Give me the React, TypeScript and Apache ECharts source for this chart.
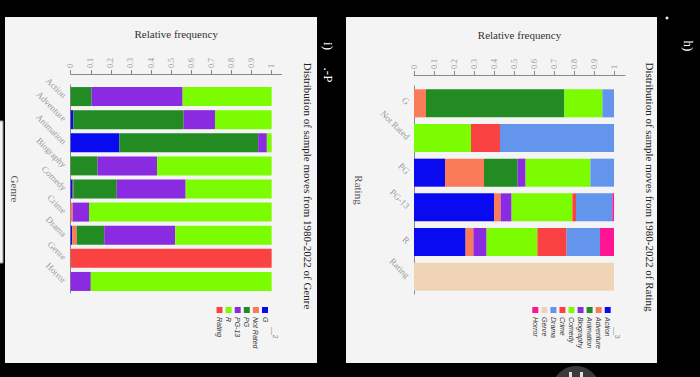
import React, { useEffect, useRef } from "react";
import * as echarts from "echarts";

// ---- Data ----
const GENRES = ["Action", "Adventure", "Animation", "Biography", "Comedy", "Crime", "Drama", "Genre", "Horror"];
const RATINGS = ["G", "Not Rated", "PG", "PG-13", "R", "Rating"];
const TICKS = [0, 0.1, 0.2, 0.3, 0.4, 0.5, 0.6, 0.7, 0.8, 0.9, 1];

// Left chart: share of each rating within each genre (order of GENRES)
const G_SHARE = [0, 0.013, 0.242, 0, 0.01, 0, 0.007, 0, 0];
const NOT_RATED_SHARE = [0, 0, 0, 0, 0.003, 0.01, 0.023, 0, 0];
const PG_SHARE = [0.104, 0.549, 0.691, 0.134, 0.216, 0, 0.137, 0, 0];
const PG13_SHARE = [0.453, 0.156, 0.043, 0.296, 0.343, 0.081, 0.353, 0, 0.1];
const R_SHARE = [0.443, 0.282, 0.024, 0.57, 0.428, 0.909, 0.48, 0, 0.9];
const RATING_SHARE = [0, 0, 0, 0, 0, 0, 0, 1, 0];

// Right chart: share of each genre within each rating (order of RATINGS)
const ACTION_SHARE = [0, 0, 0.155, 0.4, 0.258, 0];
const ADVENTURE_SHARE = [0.06, 0, 0.195, 0.033, 0.039, 0];
const ANIMATION_SHARE = [0.692, 0, 0.168, 0, 0, 0];
const BIOGRAPHY_SHARE = [0, 0, 0.04, 0.055, 0.066, 0];
const COMEDY_SHARE = [0.19, 0.285, 0.324, 0.304, 0.254, 0];
const CRIME_SHARE = [0, 0.145, 0, 0.018, 0.146, 0];
const DRAMA_SHARE = [0.058, 0.57, 0.118, 0.182, 0.167, 0];
const GENRE_SHARE = [0, 0, 0, 0, 0, 1];
const HORROR_SHARE = [0, 0, 0, 0.008, 0.07, 0];

const LEFT_SERIES = [G_SHARE, NOT_RATED_SHARE, PG_SHARE, PG13_SHARE, R_SHARE, RATING_SHARE];
const RIGHT_SERIES = [ACTION_SHARE, ADVENTURE_SHARE, ANIMATION_SHARE, BIOGRAPHY_SHARE, COMEDY_SHARE, CRIME_SHARE, DRAMA_SHARE, GENRE_SHARE, HORROR_SHARE];

const RATING_COLORS = ["#0a0af0", "#f97b57", "#228b22", "#8a2be2", "#7cfc00", "#fb4242"];
const GENRE_COLORS = ["#0a0af0", "#f97b57", "#228b22", "#8a2be2", "#7cfc00", "#fb4242", "#6495ed", "#efd5b6", "#ff1493"];

const SERIF = "Liberation Serif, Times New Roman, serif";
const SANS = "Liberation Sans, Arial, sans-serif";
const R90 = -Math.PI / 2;

function valueAxis(gridIndex: number, max: number) {
  return {
    gridIndex,
    type: "value",
    position: "top",
    min: 0,
    max,
    offset: 11,
    name: "Relative frequency",
    nameLocation: "middle",
    nameGap: 35,
    nameTextStyle: { fontFamily: SERIF, fontSize: 11, color: "#333" },
    axisLine: { show: true, lineStyle: { color: "#888", width: 1 } },
    axisTick: { show: true, length: 4, customValues: TICKS, lineStyle: { color: "#888" } },
    axisLabel: { rotate: -90, margin: 6, fontSize: 8, color: "#999", fontFamily: SERIF, customValues: TICKS },
    splitLine: { show: false },
  };
}

function categoryAxis(gridIndex: number, data: string[], name: string) {
  return {
    gridIndex,
    type: "category",
    data,
    inverse: true,
    name,
    nameLocation: "middle",
    nameRotate: -90,
    nameGap: 50,
    nameTextStyle: { fontFamily: SERIF, fontSize: 11, color: "#555" },
    axisLine: { show: true, lineStyle: { color: "#888", width: 1 } },
    axisTick: { show: false },
    axisLabel: { rotate: -45, margin: 6, fontSize: 9, color: "#999", fontFamily: SERIF, interval: 0 },
    splitLine: { show: false },
  };
}

function legendGraphics(names: string[], colors: string[], rightX: number, step: number, title: string) {
  const els: any[] = [];
  names.forEach((n, i) => {
    const cx = rightX - i * step;
    els.push({ type: "rect", shape: { x: cx - 3, y: 307, width: 6, height: 6 }, style: { fill: colors[i] } });
    els.push({
      type: "text",
      x: cx,
      y: 317,
      rotation: R90,
      style: { text: n, fill: "#333", font: `italic 7px ${SANS}`, align: "left", verticalAlign: "middle" },
    });
  });
  els.push({
    type: "text",
    x: rightX + 10,
    y: 327,
    rotation: R90,
    style: { text: title, fill: "#888", font: `7px ${SANS}`, align: "left", verticalAlign: "middle" },
  });
  return els;
}

export default function App() {
  const ref = useRef<HTMLDivElement>(null);
  useEffect(() => {
    if (!ref.current) return;
    const chart = echarts.init(ref.current, undefined, { renderer: "svg" });
    const series: any[] = [];
    RATINGS.forEach((r, i) => {
      series.push({
        name: r,
        type: "bar",
        stack: "left",
        xAxisIndex: 0,
        yAxisIndex: 0,
        barWidth: 19,
        data: LEFT_SERIES[i],
        itemStyle: { color: RATING_COLORS[i] },
      });
    });
    GENRES.forEach((g, i) => {
      series.push({
        name: g,
        type: "bar",
        stack: "right",
        xAxisIndex: 1,
        yAxisIndex: 1,
        barWidth: 28,
        data: RIGHT_SERIES[i],
        itemStyle: { color: GENRE_COLORS[i] },
      });
    });

    const graphic: any[] = [
      { type: "rect", z: -100, shape: { x: 5, y: 17, width: 312, height: 346 }, style: { fill: "#f4f4f4" } },
      { type: "rect", z: -100, shape: { x: 346, y: 17, width: 311, height: 346 }, style: { fill: "#f4f4f4" } },
      { type: "rect", z: -100, shape: { x: -3, y: 121, width: 6, height: 142 }, style: { fill: "#f2f2f2", stroke: "#999", lineWidth: 1 } },
      { type: "circle", shape: { cx: 576, cy: 390, r: 24 }, style: { fill: "#3a3a3a" } },
      { type: "rect", shape: { x: 569, y: 372, width: 3, height: 5 }, style: { fill: "#ddd" } },
      { type: "rect", shape: { x: 580, y: 372, width: 3, height: 5 }, style: { fill: "#ddd" } },
      { type: "circle", shape: { cx: 667, cy: 18, r: 1.5 }, style: { fill: "#eee" } },
      { type: "text", x: 308, y: 186, rotation: R90, style: { text: "Distribution of sample moves from 1980-2022 of Genre", fill: "#222", font: `11px ${SERIF}`, align: "center", verticalAlign: "middle" } },
      { type: "text", x: 650, y: 187, rotation: R90, style: { text: "Distribution of sample moves from 1980-2022 of Rating", fill: "#222", font: `11px ${SERIF}`, align: "center", verticalAlign: "middle" } },
      { type: "text", x: 328, y: 46, rotation: R90, style: { text: "i)", fill: "#fff", font: `13px ${SERIF}`, align: "center", verticalAlign: "middle" } },
      { type: "text", x: 328, y: 75, rotation: R90, style: { text: ".-P", fill: "#fff", font: `13px ${SERIF}`, align: "center", verticalAlign: "middle" } },
      { type: "text", x: 688, y: 46, rotation: R90, style: { text: "h)", fill: "#fff", font: `13px ${SERIF}`, align: "center", verticalAlign: "middle" } },
      ...legendGraphics(RATINGS, RATING_COLORS, 265, 9.1, "__2"),
      ...legendGraphics(GENRES, GENRE_COLORS, 607.7, 9.05, "__3"),
    ];

    chart.setOption({
      animation: false,
      backgroundColor: "#000",
      grid: [
        { left: 70.7, top: 85, width: 211, height: 208, containLabel: false },
        { left: 414, top: 86, width: 211, height: 208, containLabel: false },
      ],
      xAxis: [valueAxis(0, 1.05), valueAxis(1, 1.055)],
      yAxis: [categoryAxis(0, GENRES, "Genre"), categoryAxis(1, RATINGS, "Rating")],
      series,
      graphic,
    });
    return () => chart.dispose();
  }, []);
  return (
    <div
      ref={ref}
      style={{ position: "fixed", left: 0, top: 0, width: 700, height: 377, background: "#000" }}
    />
  );
}
